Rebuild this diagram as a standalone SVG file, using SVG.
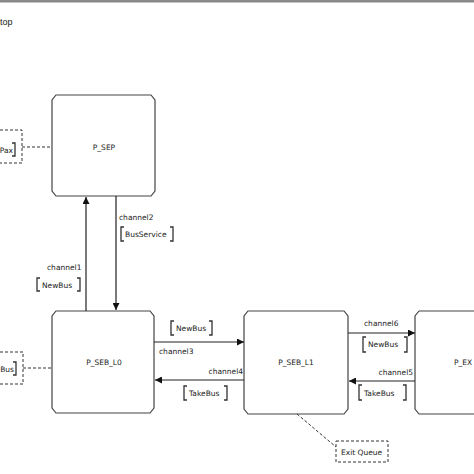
<svg xmlns="http://www.w3.org/2000/svg" width="474" height="474" viewBox="0 0 474 474">
<style>
.node{fill:#fff;stroke:#444;stroke-width:1.2}
.lbl{font-family:"DejaVu Sans",sans-serif;font-size:7.5px;fill:#222}
.nlbl{font-family:"DejaVu Sans",sans-serif;font-size:7.5px;fill:#222;text-anchor:middle}
.conn{stroke:#222;stroke-width:1.2;fill:none}
.brk{stroke:#333;stroke-width:1.3;fill:none}
.dash{stroke:#333;stroke-width:1;fill:none;stroke-dasharray:3,2}
</style>
<defs>
<marker id="ah" viewBox="0 0 10 10" refX="10" refY="5" markerWidth="7" markerHeight="7" markerUnits="userSpaceOnUse" orient="auto">
<path d="M0,0 L10,5 L0,10 z" fill="#111"/>
</marker>
</defs>
<rect x="0" y="0" width="474" height="2.5" fill="#888"/>
<text x="0" y="25" font-family="Liberation Sans, sans-serif" font-size="9" fill="#222">top</text>

<g id="note-pax">
<path class="dash" d="M0,130 H22 V163 H0"/>
<text class="lbl" x="13" y="153" text-anchor="end">Pax</text>
<path class="brk" d="M12,143 H15 V156 H12"/>
</g>
<g id="note-bus">
<path class="dash" d="M0,352 H23 V384 H0"/>
<text class="lbl" x="14" y="372" text-anchor="end">Bus</text>
<path class="brk" d="M13,362 H16 V375 H13"/>
</g>
<g id="note-exit">
<rect class="dash" x="336" y="441" width="52" height="21"/>
<text class="lbl" x="341" y="455">Exit Queue</text>
</g>

<g id="P_SEP">
<path class="node" d="M56,95 H151 L155,100 V191 L151,196 H56 L52,191 V100 Z"/>
<text class="nlbl" x="104" y="150">P_SEP</text>
</g>
<g id="P_SEB_L0">
<path class="node" d="M56,311 H150 L154,316 V408 L150,413 H56 L52,408 V316 Z"/>
<text class="nlbl" x="104" y="365">P_SEB_L0</text>
</g>
<g id="P_SEB_L1">
<path class="node" d="M248,311 H344 L348,316 V409 L344,414 H248 L244,409 V316 Z"/>
<text class="nlbl" x="296" y="365">P_SEB_L1</text>
</g>
<g id="P_EX">
<path class="node" d="M419,311 H480 M480,414 H419 L415,409 V316 L419,311"/>
<text class="lbl" x="454" y="365">P_EX</text>
</g>

<g id="connectors">
<path class="dash" d="M22,147 H52"/>
<path class="dash" d="M23,368 H52"/>
<path class="dash" d="M297,414 L336,447"/>

<line class="conn" x1="86" y1="311" x2="86" y2="197" marker-end="url(#ah)"/>
<text class="lbl" x="47" y="270">channel1</text>
<path class="brk" d="M40,278 H37 V291 H40 M77,278 H80 V291 H77"/>
<text class="lbl" x="42" y="288">NewBus</text>

<line class="conn" x1="116" y1="196" x2="116" y2="310" marker-end="url(#ah)"/>
<text class="lbl" x="119" y="220">channel2</text>
<path class="brk" d="M124,227 H121 V241 H124 M170,227 H173 V241 H170"/>
<text class="lbl" x="125" y="237">BusService</text>

<line class="conn" x1="154" y1="342" x2="244" y2="342" marker-end="url(#ah)"/>
<path class="brk" d="M174,321 H171 V335 H174 M209,321 H212 V335 H209"/>
<text class="lbl" x="176" y="331">NewBus</text>
<text class="lbl" x="159" y="354">channel3</text>

<line class="conn" x1="244" y1="380" x2="155" y2="380" marker-end="url(#ah)"/>
<text class="lbl" x="243" y="374" text-anchor="end">channel4</text>
<path class="brk" d="M187,386 H184 V400 H187 M224,386 H227 V400 H224"/>
<text class="lbl" x="189" y="396">TakeBus</text>

<line class="conn" x1="348" y1="333" x2="415" y2="333" marker-end="url(#ah)"/>
<text class="lbl" x="364" y="326">channel6</text>
<path class="brk" d="M366,337 H363 V352 H366 M404,337 H407 V352 H404"/>
<text class="lbl" x="368" y="347">NewBus</text>

<line class="conn" x1="415" y1="381" x2="349" y2="381" marker-end="url(#ah)"/>
<text class="lbl" x="413" y="375" text-anchor="end">channel5</text>
<path class="brk" d="M362,385 H359 V400 H362 M403,385 H406 V400 H403"/>
<text class="lbl" x="364" y="396">TakeBus</text>
</g>
</svg>
